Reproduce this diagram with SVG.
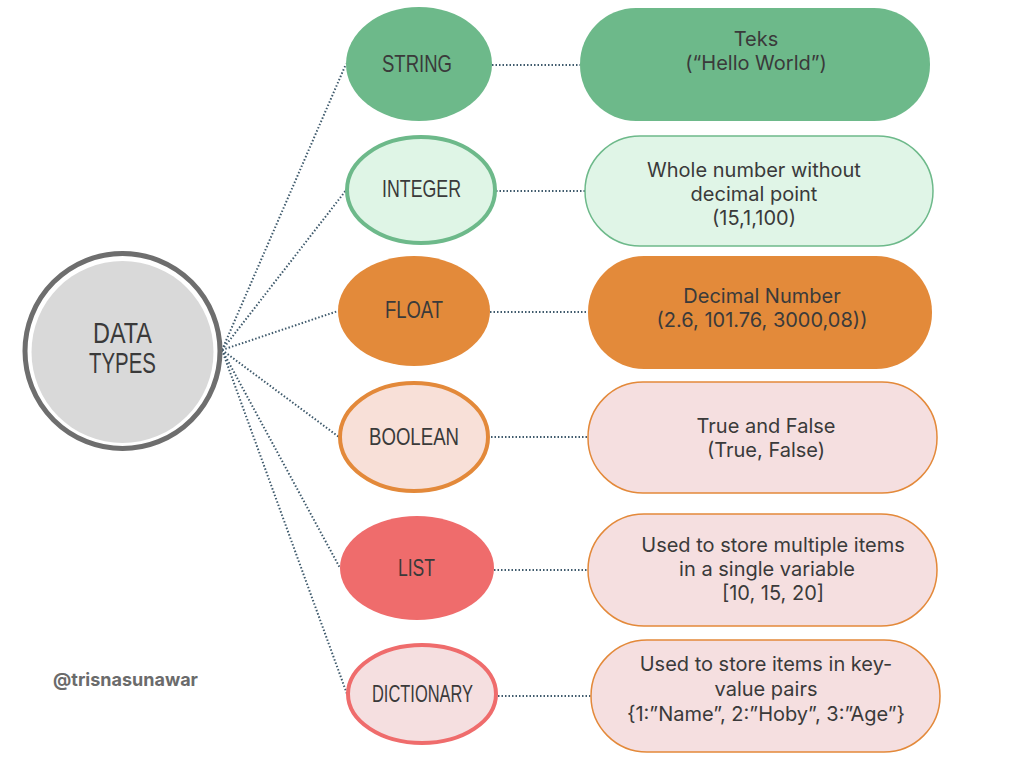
<svg xmlns="http://www.w3.org/2000/svg" width="1024" height="768" viewBox="0 0 1024 768">
<style>
.lbl{font-family:"Liberation Sans",Arial,sans-serif;font-size:24px;fill:#3a3a3a}
.desc{font-family:Inter,"Noto Sans","Liberation Sans",sans-serif;font-size:20px;fill:#3a3a3a;text-anchor:middle}
.conn{stroke:#3f5a6c;stroke-width:2;stroke-dasharray:1.5 2;fill:none}
</style>
<rect width="1024" height="768" fill="#ffffff"/>
<g id="connectors">
<line class="conn" x1="222" y1="350" x2="346" y2="64"/>
<line class="conn" x1="222" y1="350" x2="347" y2="189"/>
<line class="conn" x1="222" y1="350" x2="338" y2="311"/>
<line class="conn" x1="222" y1="350" x2="339" y2="437"/>
<line class="conn" x1="222" y1="350" x2="340" y2="568"/>
<line class="conn" x1="222" y1="350" x2="347" y2="694"/>
<line class="conn" x1="492" y1="65" x2="580" y2="65"/>
<line class="conn" x1="496" y1="191" x2="585" y2="191"/>
<line class="conn" x1="490" y1="312" x2="588" y2="312"/>
<line class="conn" x1="491" y1="437" x2="588" y2="437"/>
<line class="conn" x1="494" y1="570" x2="588" y2="570"/>
<line class="conn" x1="498" y1="696" x2="591" y2="696"/>
</g>
<g id="data-types">
<circle cx="122.5" cy="351" r="97.5" fill="#ffffff" stroke="#6e6e6e" stroke-width="5"/>
<circle cx="122.5" cy="352" r="91" fill="#d9d9d9"/>
<text x="93" y="343" font-family="Liberation Sans,Arial,sans-serif" font-size="29" fill="#3a3a3a" textLength="59" lengthAdjust="spacingAndGlyphs">DATA</text>
<text x="89" y="373" font-family="Liberation Sans,Arial,sans-serif" font-size="29" fill="#3a3a3a" textLength="67" lengthAdjust="spacingAndGlyphs">TYPES</text>
</g>
<g id="string">
<ellipse cx="419" cy="64" rx="73" ry="57" fill="#6db98a"/>
<text class="lbl" x="382" y="72" textLength="70" lengthAdjust="spacingAndGlyphs">STRING</text>
</g>
<g id="string-desc">
<rect x="580" y="8" width="350" height="113" rx="56" fill="#6db98a"/>
<text class="desc" x="756" y="46">Teks</text>
<text class="desc" x="756" y="70">(“Hello World”)</text>
</g>
<g id="integer">
<ellipse cx="421" cy="190" rx="74" ry="53" fill="#dff5e6" stroke="#6db98a" stroke-width="4"/>
<text class="lbl" x="382" y="197" textLength="79" lengthAdjust="spacingAndGlyphs">INTEGER</text>
</g>
<g id="integer-desc">
<rect x="585" y="136" width="348" height="110" rx="55" fill="#e0f5e7" stroke="#6db98a" stroke-width="1.5"/>
<text class="desc" x="754" y="177">Whole number without</text>
<text class="desc" x="754" y="201">decimal point</text>
<text class="desc" x="754" y="225">(15,1,100)</text>
</g>
<g id="float">
<ellipse cx="414" cy="311" rx="76" ry="55" fill="#e38a3a"/>
<text class="lbl" x="385" y="318" textLength="58" lengthAdjust="spacingAndGlyphs">FLOAT</text>
</g>
<g id="float-desc">
<rect x="588" y="256" width="344" height="113" rx="56" fill="#e38a3a"/>
<text class="desc" x="762" y="303">Decimal Number</text>
<text class="desc" x="762" y="327">(2.6, 101.76, 3000,08))</text>
</g>
<g id="boolean">
<ellipse cx="414" cy="437" rx="74" ry="54" fill="#f8e0d8" stroke="#e3893a" stroke-width="4"/>
<text class="lbl" x="369" y="445" textLength="90" lengthAdjust="spacingAndGlyphs">BOOLEAN</text>
</g>
<g id="boolean-desc">
<rect x="588" y="382" width="349" height="111" rx="55" fill="#f5dfe0" stroke="#e3893a" stroke-width="1.5"/>
<text class="desc" x="766" y="433">True and False</text>
<text class="desc" x="766" y="457">(True, False)</text>
</g>
<g id="list">
<ellipse cx="417" cy="568" rx="77" ry="52" fill="#ef6c6c"/>
<text class="lbl" x="398" y="576" textLength="37" lengthAdjust="spacingAndGlyphs">LIST</text>
</g>
<g id="list-desc">
<rect x="588" y="514" width="349" height="112" rx="56" fill="#f5dfe0" stroke="#e3893a" stroke-width="1.5"/>
<text class="desc" x="773" y="552">Used to store multiple items</text>
<text class="desc" x="767" y="576">in a single variable</text>
<text class="desc" x="773" y="600">[10, 15, 20]</text>
</g>
<g id="dictionary">
<ellipse cx="422" cy="694" rx="74" ry="49" fill="#f5dfe0" stroke="#ef6c6c" stroke-width="4"/>
<text class="lbl" x="372" y="702" textLength="101" lengthAdjust="spacingAndGlyphs">DICTIONARY</text>
</g>
<g id="dictionary-desc">
<rect x="591" y="640" width="349" height="112" rx="56" fill="#f5dfe0" stroke="#e3893a" stroke-width="1.5"/>
<text class="desc" x="766" y="671">Used to store items in key-</text>
<text class="desc" x="766" y="696">value pairs</text>
<text class="desc" x="766" y="721">{1:”Name”, 2:”Hoby”, 3:”Age”}</text>
</g>
<g id="watermark">
<text x="53" y="686" font-family="Inter,Liberation Sans,sans-serif" font-size="18" font-weight="bold" fill="#6b6b6b">@trisnasunawar</text>
</g>
</svg>
